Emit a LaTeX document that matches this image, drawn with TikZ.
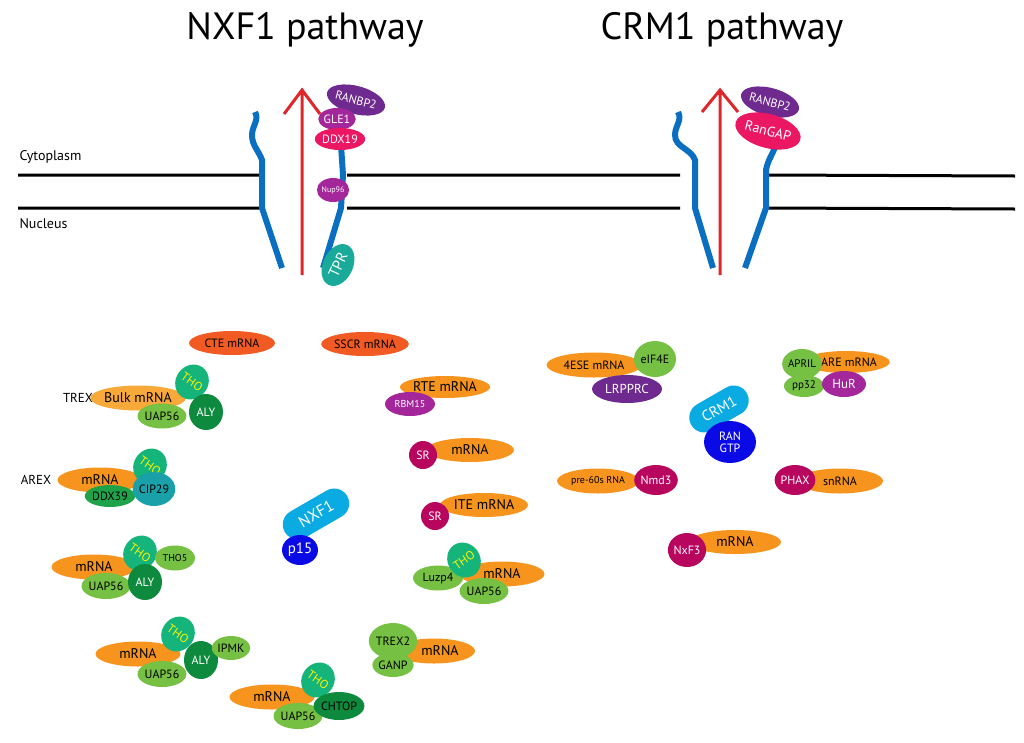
\documentclass[tikz,border=0pt]{standalone}
\usepackage{fontspec}
\setmainfont{PT Sans}
\usetikzlibrary{shapes.geometric,shapes.misc}
\definecolor{pore}{HTML}{0A6FC0}
\definecolor{arr}{HTML}{E0262B}
\definecolor{orng}{HTML}{F7941D}
\definecolor{lorng}{HTML}{F9A93A}
\definecolor{rorng}{HTML}{F15A22}
\definecolor{lgrn}{HTML}{76C043}
\definecolor{dgrn}{HTML}{0E8A3E}
\definecolor{mgrn}{HTML}{1FA34A}
\definecolor{tho}{HTML}{14B47A}
\definecolor{teal}{HTML}{1AA0A8}
\definecolor{tpr}{HTML}{1AAA9A}
\definecolor{purp}{HTML}{6E2A8E}
\definecolor{mag}{HTML}{A3279A}
\definecolor{pink}{HTML}{EC1763}
\definecolor{crim}{HTML}{B8065E}
\definecolor{cyn}{HTML}{0AAAE2}
\definecolor{blu}{HTML}{0A0AE6}
\tikzset{
  mol/.style={ellipse, fill=#1, inner sep=0pt, font=\fontsize{12}{12}\selectfont},
  rna/.style={mol=orng, minimum width=85, minimum height=25},
  thoo/.style={mol=tho, minimum width=30, minimum height=36, rotate=-35, text=yellow},
  wt/.style={text=white},
  membrane/.style={line width=3pt},
  strand/.style={pore, line width=6pt},
  pathway/.style={arr, line width=3pt}
}
\begin{document}
\begin{tikzpicture}[x=1pt, y=-1pt]
\useasboundingbox (0,0) rectangle (1024,742);

\node (t1) at (305,30) {\fontsize{38}{38}\selectfont NXF1 pathway};
\node (t2) at (722,30) {\fontsize{38}{38}\selectfont CRM1 pathway};
\node[anchor=west, font=\fontsize{14}{14}\selectfont] (cyto) at (16,157) {Cytoplasm};
\node[anchor=west, font=\fontsize{14}{14}\selectfont] (nucl) at (16,224) {Nucleus};

% membranes
\draw[membrane] (18,175) -- (262,175) (347,175) -- (680,175) (765,175) -- (1015,176);
\draw[membrane] (18,208) -- (262,208) (347,208) -- (680,208) (765,208) -- (1015,209);

% pores
\draw[strand] (255,112) to[out=-60, in=90] (252,135) to[out=-90, in=110] (262,160) -- (262,208) -- (282,268);
\draw[strand] (341,145) -- (343,175) -- (341,208) -- (323,268);
\draw[strand] (678,112) to[out=-60, in=90] (675,135) to[out=-90, in=110] (695,160) -- (695,208) -- (713,268);
\draw[strand] (777,140) to[out=-100, in=80] (766,170) -- (766,208) -- (745,268);
\draw[pathway] (302,275) -- (302,90) (284,114) -- (302,90) -- (320,114);
\draw[pathway] (720,275) -- (720,90) (702,112) -- (720,90) -- (738,112);

\node[mol=purp, wt, minimum width=56, minimum height=28, rotate=-15] (ranbp) at (356,100) {RANBP2};
\node[mol=mag, wt, minimum width=32, minimum height=22] (gle) at (337,119) {GLE1};
\node[mol=pink, wt, minimum width=42, minimum height=22] (ddx) at (340,139) {DDX19};
\node[mol=mag, wt, minimum width=30, minimum height=24, font=\fontsize{8}{8}\selectfont] (nup) at (333,190) {Nup96};
\node[mol=tpr, wt, minimum width=44, minimum height=30, rotate=65, font=\fontsize{15}{15}\selectfont] (tpr) at (338,265) {TPR};
\node[mol=purp, wt, minimum width=56, minimum height=28, rotate=-15] (ranbpb) at (770,102) {RANBP2};
\node[mol=pink, wt, minimum width=62, minimum height=34, rotate=-15, font=\fontsize{14}{14}\selectfont] (rangap) at (768,131) {RanGAP};

% NXF1 side
\node[mol=rorng, minimum width=86, minimum height=24] (cte) at (232,343) {CTE mRNA};
\node[mol=rorng, minimum width=86, minimum height=24] (sscr) at (365,344) {SSCR mRNA};

\node[font=\fontsize{13}{13}\selectfont] (trex) at (78,398) {TREX};
\node[mol=lorng, minimum width=92, minimum height=25, font=\fontsize{14}{14}\selectfont] (bulk) at (138,398) {Bulk mRNA};
\node[thoo] (tho1) at (192,382) {THO};
\node[mol=lgrn, minimum width=48, minimum height=25] (uap1) at (162,416) {UAP56};
\node[mol=dgrn, wt, minimum width=34, minimum height=36] (aly1) at (206,412) {ALY};

\node[font=\fontsize{13}{13}\selectfont] (arex) at (36,480) {AREX};
\node[rna, font=\fontsize{14}{14}\selectfont] (m2) at (100,480) {mRNA};
\node[thoo] (tho2) at (150,466) {THO};
\node[mol=mgrn, minimum width=48, minimum height=22] (ddx39) at (110,496) {DDX39};
\node[mol=teal, minimum width=33, minimum height=34] (cip) at (154,489) {CIP29};

\node[rna, font=\fontsize{14}{14}\selectfont] (m3) at (94,567) {mRNA};
\node[thoo] (tho3) at (140,553) {THO};
\node[mol=lgrn, minimum width=40, minimum height=25, font=\fontsize{10}{10}\selectfont] (tho5) at (175,558) {THO5};
\node[mol=lgrn, minimum width=46, minimum height=26] (uap3) at (106,586) {UAP56};
\node[mol=dgrn, wt, minimum width=34, minimum height=36] (aly3) at (145,582) {ALY};

\node[rna, font=\fontsize{14}{14}\selectfont] (m4) at (138,654) {mRNA};
\node[thoo] (tho4) at (178,634) {THO};
\node[mol=lgrn, minimum width=46, minimum height=26] (uap4) at (162,674) {UAP56};
\node[mol=dgrn, wt, minimum width=34, minimum height=38] (aly4) at (201,660) {ALY};
\node[mol=lgrn, minimum width=34, minimum height=24] (ipmk) at (231,648) {IPMK};

\node[rna, font=\fontsize{14}{14}\selectfont] (m5) at (272,697) {mRNA};
\node[thoo] (tho6) at (318,680) {THO};
\node[mol=lgrn, minimum width=46, minimum height=26] (uap5) at (298,716) {UAP56};
\node[mol=dgrn, minimum width=46, minimum height=28] (chtop) at (339,706) {CHTOP};

\node[mol=orng, minimum width=86, minimum height=22, font=\fontsize{14}{14}\selectfont] (rte) at (445,387) {RTE mRNA};
\node[mol=mag, wt, minimum width=50, minimum height=24, font=\fontsize{10}{10}\selectfont] (rbm) at (410,404) {RBM15};
\node[mol=orng, minimum width=88, minimum height=24, font=\fontsize{14}{14}\selectfont] (m6) at (470,450) {mRNA};
\node[mol=crim, wt, minimum width=28, minimum height=28] (sr1) at (423,455) {SR};
\node[mol=orng, minimum width=88, minimum height=24, font=\fontsize{14}{14}\selectfont] (ite) at (484,505) {ITE mRNA};
\node[mol=crim, wt, minimum width=28, minimum height=28] (sr2) at (435,516) {SR};

\node[rna, font=\fontsize{14}{14}\selectfont] (m7) at (502,574) {mRNA};
\node[mol=lgrn, minimum width=50, minimum height=25] (luzp) at (438,578) {Luzp4};
\node[thoo, rotate=70] (tho7) at (464,560) {THO};
\node[mol=lgrn, minimum width=46, minimum height=26] (uap7) at (484,591) {UAP56};

\node[mol=orng, minimum width=82, minimum height=25, font=\fontsize{14}{14}\selectfont] (m8) at (434,651) {\hspace*{12pt}mRNA};
\node[mol=lgrn, minimum width=36, minimum height=36] (trex2) at (393,641) {TREX2};
\node[mol=lgrn, minimum width=40, minimum height=24] (ganp) at (393,665) {GANP};

\node[mol=cyn, wt, rounded rectangle, minimum width=72, minimum height=30, rotate=30, font=\fontsize{16}{16}\selectfont] (nxf) at (316,514) {NXF1};
\node[mol=blu, wt, minimum width=36, minimum height=30, font=\fontsize{15}{15}\selectfont] (p15) at (300,550) {p15};

% CRM1 side
\node[mol=orng, minimum width=95, minimum height=25] (ese) at (594,365) {4ESE mRNA};
\node[mol=lgrn, minimum width=42, minimum height=36] (eif) at (655,359) {eIF4E};
\node[mol=purp, wt, minimum width=70, minimum height=28, font=\fontsize{13}{13}\selectfont] (lrp) at (627,389) {LRPPRC};

\node[mol=orng, minimum width=86, minimum height=22] (are) at (846,362) {\hspace*{6pt}ARE mRNA};
\node[mol=lgrn, minimum width=34, minimum height=30, font=\fontsize{11}{11}\selectfont] (april) at (802,364) {APRIL};
\node[mol=lgrn, minimum width=40, minimum height=22, font=\fontsize{11}{11}\selectfont] (pp) at (804,386) {pp32};
\node[mol=mag, wt, minimum width=44, minimum height=26, font=\fontsize{13}{13}\selectfont] (hur) at (844,384) {HuR};

\node[mol=cyn, wt, rounded rectangle, minimum width=64, minimum height=30, rotate=30, font=\fontsize{15}{15}\selectfont] (crm) at (719,409) {CRM1};
\node[mol=blu, wt, minimum width=52, minimum height=42, align=center] (ran) at (730,442) {RAN\\GTP};

\node[mol=orng, minimum width=82, minimum height=25, font=\fontsize{10}{10}\selectfont] (pre) at (598,481) {pre-60s RNA};
\node[mol=crim, wt, minimum width=38, minimum height=30] (nmd) at (656,480) {Nmd3};
\node[mol=orng, minimum width=86, minimum height=25] (sn) at (840,481) {snRNA};
\node[mol=crim, wt, minimum width=36, minimum height=30] (phax) at (795,480) {PHAX};
\node[mol=orng, minimum width=92, minimum height=24, font=\fontsize{14}{14}\selectfont] (m9) at (735,542) {mRNA};
\node[mol=crim, wt, minimum width=38, minimum height=34] (nxf3) at (687,550) {NxF3};
\end{tikzpicture}
\end{document}
